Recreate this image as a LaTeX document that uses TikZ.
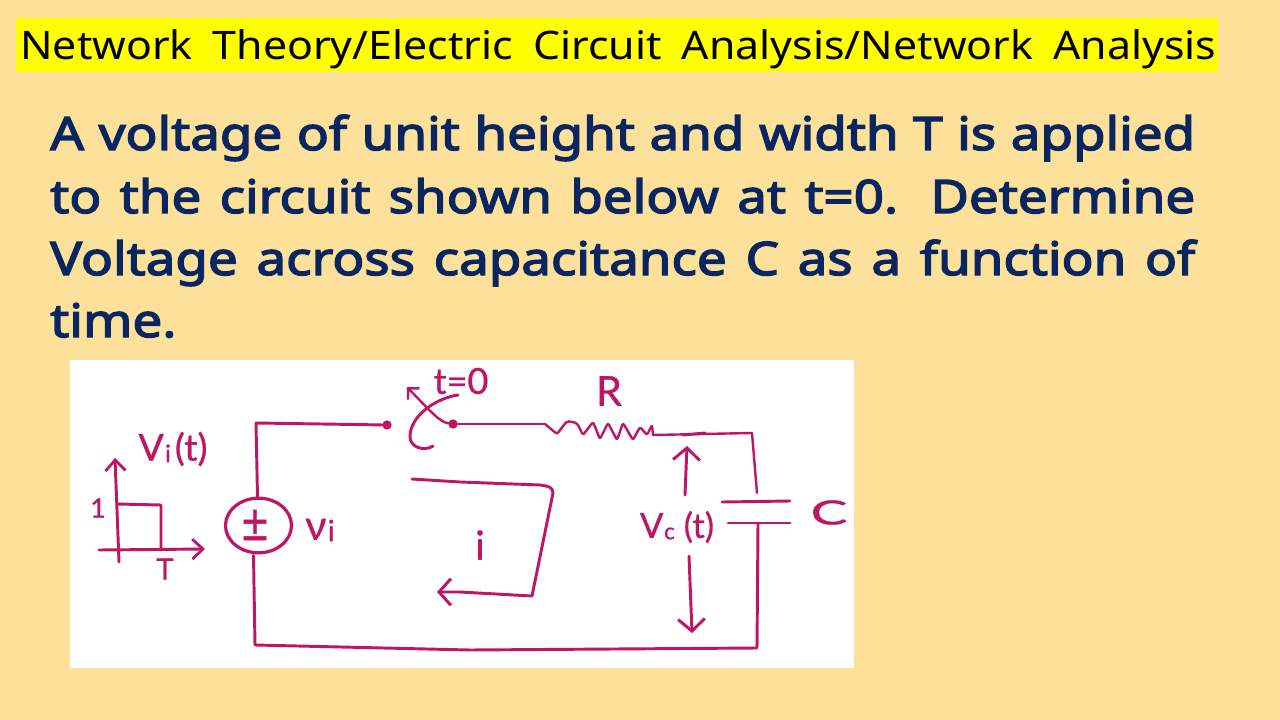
\documentclass[tikz,border=0pt]{standalone}
\usepackage{fontspec}
\newfontfamily\headfont[FakeStretch=1.09]{Noto Sans}
\newfontfamily\bodyfont[FakeStretch=1.15,FakeBold=3.2]{Noto Sans}
\newfontfamily\handfont[FakeBold=0.8]{Lato}
\usetikzlibrary{arrows.meta,shapes.geometric}
\definecolor{pagebg}{RGB}{253,225,155}
\definecolor{bandyellow}{RGB}{255,255,0}
\definecolor{inknavy}{RGB}{10,38,96}
\definecolor{pen}{RGB}{190,22,100}
\tikzset{
  wire/.style={draw=pen,line width=2.2pt,line cap=round,line join=round},
  thinwire/.style={wire,line width=1.8pt},
  barb/.style={-{Straight Barb[length=9pt,width=20pt,line width=2.2pt]}},
  smallbarb/.style={-{Straight Barb[length=8pt,width=15pt,line width=2.1pt]}},
  tinybarb/.style={-{Straight Barb[length=6pt,width=12pt,line width=1.8pt]}},
  hand/.style={text=pen,inner sep=0pt,font=\handfont},
  bodyline/.style={anchor=base west,inner sep=0pt,text=inknavy,font=\bodyfont\fontsize{34.5}{40}\selectfont},
  dotnode/.style={circle,fill=pen,inner sep=0pt,minimum size=7pt},
}
\newcommand{\bodyrow}[1]{\makebox[858.75pt][s]{#1}}
\begin{document}
\begin{tikzpicture}[x=0.75pt,y=-0.75pt]
\useasboundingbox (0,0) rectangle (1280,720);
\fill[pagebg] (0,0) rectangle (1280,720);
\fill[bandyellow] (16,18) rectangle (1218,72);
\node[anchor=base west,inner sep=0pt,text=black,font=\headfont\fontsize{29.5}{34}\selectfont] (head) at (20,60)
  {\makebox[897pt][s]{Network Theory/Electric Circuit Analysis/Network Analysis}};
\node[bodyline] (l1) at (50,150) {\bodyrow{A voltage of unit height and width T is applied}};
\node[bodyline] (l2) at (50,213) {\bodyrow{to the circuit shown below at t=0. Determine}};
\node[bodyline] (l3) at (50,275) {\bodyrow{Voltage across capacitance C as a function of}};
\node[bodyline] (l4) at (50,337) {time.};
\fill[white] (70,360) rectangle (854,668);

% source
\node[draw=pen,line width=2.4pt,ellipse,minimum width=49.5pt,minimum height=41pt,inner sep=0pt] (src) at (258.5,525.5) {};
\node[hand,font=\handfont\fontsize{27}{27}\selectfont] (plusminus) at (255,526) {\scalebox{1.3}[1.5]{±}};
\node[hand,font=\handfont\fontsize{31}{31}\selectfont] (vilabel) at (320,530) {ν\kern1pt\raisebox{-1pt}{\fontsize{22}{22}\selectfont i}};

% named points
\node[dotnode] (swL) at (387,425) {};
\node[dotnode] (swR) at (453,424) {};
\coordinate (tl) at (256,423);
\coordinate (bl) at (255,645);
\coordinate (br) at (757,648);
\coordinate (tr) at (752,433);
\coordinate (rin) at (545,424);
\coordinate (rout) at (653,435);
\coordinate (capTop) at (757,493);
\coordinate (capBot) at (758,523);
\coordinate (swTip) at (407,387);

% wires
\draw[wire] (src.north) ++(-1,0) -- (tl) -- (swL);
\draw[wire] (src.south) ++(-5,1) -- (bl) -- (470,650) -- (br) -- (capBot);
\draw[thinwire] (swR) -- (rin);
\draw[thinwire,rounded corners=1.5pt] (rin) -- (557,434) -- (567,421) -- (577,423) -- (583,435) -- (593,422) -- (600,439) -- (608,423) -- (617,440) -- (623,423) -- (633,440) -- (640,427) -- (647,435) -- (652,425) -- (rout);
\draw[thinwire] (rout) -- (tr) -- (capTop);
\draw[wire] (683,435) -- (705,433);
% capacitor
\draw[wire] (722,502) -- (790,501);
\draw[wire] (728,523) -- (790,523);
\node[hand,font=\handfont\fontsize{25}{25}\selectfont] (clabel) at (829,512.5) {\scalebox{1.65}[1]{C}};
\node[hand,font=\handfont\fontsize{31}{31}\selectfont] (rlabel) at (609,391) {R};
\node[hand,font=\handfont\fontsize{27}{27}\selectfont] (tzero) at (461,381) {t=0};

% switch
\draw[tinybarb,thinwire] (swR) .. controls (440,422) and (432,413) .. (swTip);
\draw[wire] (458,395) .. controls (437,398) and (410,415) .. (410,437) .. controls (410,447) and (424,452) .. (433,446);

% current loop
\draw[barb,wire] (412,479) -- (460,482) -- (540,485) .. controls (548,486) and (553,487) .. (553,493) -- (532,596) -- (460,592) -- (437,592);
\node[hand,font=\handfont\fontsize{30}{30}\selectfont] (ilabel) at (480,545) {i};

% Vc arrows
\node[hand,font=\handfont\fontsize{26}{26}\selectfont] (vc) at (677,527) {V\kern0.5pt\raisebox{-1pt}{\fontsize{17}{17}\selectfont c} (t)};
\draw[barb,wire] (685,495) -- (687,446);
\draw[barb,wire] (689,556) -- (692,633);

% pulse graph
\coordinate (yb) at (119,562);
\coordinate (yt) at (115,458);
\coordinate (xl) at (99,550);
\coordinate (xr) at (205,549);
\draw[smallbarb,wire] (yb) -- (yt);
\draw[smallbarb,wire] (xl) -- (xr);
\draw[wire] (117,504) -- (161,505) -- (161,550);
\node[hand,font=\handfont\fontsize{20}{20}\selectfont] (one) at (98,508) {1};
\node[hand,font=\handfont\fontsize{22}{22}\selectfont] (tlabel) at (165,569) {T};
\node[hand,font=\handfont\fontsize{28}{28}\selectfont] (vit) at (173,449) {V\kern1pt\raisebox{-1pt}{\fontsize{18}{18}\selectfont i}\kern3pt(t)};
\end{tikzpicture}
\end{document}
